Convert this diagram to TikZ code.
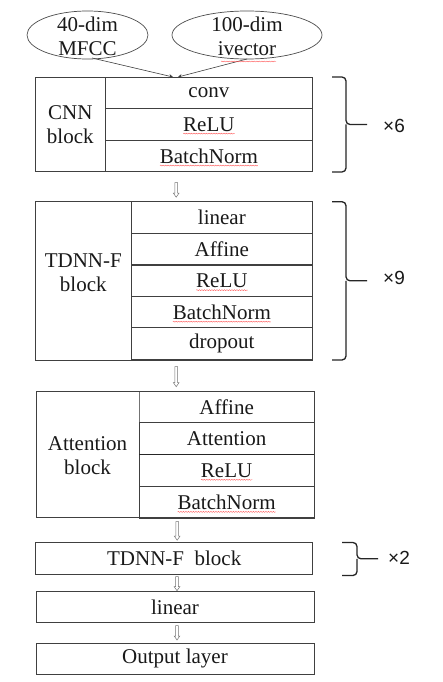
\documentclass[tikz,border=0pt]{standalone}
\usepackage{fontspec}
\setmainfont{Liberation Serif}
\newfontfamily\labsans{Liberation Sans}
\usetikzlibrary{arrows.meta,decorations.pathmorphing,calc}
\newcommand\hollowdown[2]{%
  \draw[harrow] let \p1=(#1), \p2=(#2) in
    (\x1-1.4pt,\y1) -- (\x1+1.4pt,\y1) -- (\x1+1.4pt,\y2+4pt) -- (\x1+2.8pt,\y2+4pt)
    -- (\x1,\y2) -- (\x1-2.8pt,\y2+4pt) -- (\x1-1.4pt,\y2+4pt) -- cycle;}
\begin{document}
\begin{tikzpicture}[x=1pt,y=-1pt,
  every node/.style={font=\fontsize{21}{24}\selectfont, text=black!90},
  box/.style={draw=black!75, line width=0.8pt, inner sep=0pt, outer sep=0pt},
  row/.style={draw=black!75, line width=0.8pt, inner sep=0pt, outer sep=0pt, minimum height=31.6pt},
  txt/.style={inner sep=0pt, outer sep=0pt},
  lab/.style={align=center, inner sep=0pt},
  feed/.style={draw=black!75, line width=0.6pt, -{Stealth[length=4pt,width=4pt]}},
  harrow/.style={draw=black!55, line width=0.5pt, fill=white, line join=miter},
  brace/.style={draw=black!85, line width=1.3pt},
  times/.style={font=\labsans\fontsize{19}{22}\selectfont, anchor=west, inner sep=0pt},
  squig/.style={draw=red!70, line width=0.35pt, decorate, decoration={snake, amplitude=0.5pt, segment length=2.5pt}}
]
\useasboundingbox (0,0) rectangle (442,682);
\fill[white] (0,0) rectangle (442,682);

% input ellipses
\draw[black!70, line width=0.7pt] (87.5,35) ellipse [x radius=60.5pt, y radius=24pt];
\draw[black!70, line width=0.7pt] (247,35) ellipse [x radius=75pt, y radius=24pt];
\node[lab] (mfcc) at (87.5,36) {40-dim\\MFCC};
\node[lab] (ivec) at (247,36) {100-dim\\ivector};
\coordinate (mfccS) at (92,58);
\coordinate (ivecS) at (247,59);

% CNN block
\node[box, minimum width=277pt, minimum height=94.7pt] (cnn) at (174.2,124.35) {};
\node[row, minimum width=207.7pt] (c1) at (208.85,92.8) {};
\node[row, minimum width=207.7pt] (c2) at (208.85,124.35) {};
\node[row, minimum width=207.7pt] (c3) at (208.85,155.9) {};
\node[txt] (c1t) at (c1) {conv};
\node[txt] (c2t) at (c2) {ReLU};
\node[txt] (c3t) at (c3) {BatchNorm};
\node[lab] (cnnl) at (70.3,125) {CNN\\block};

\coordinate (cnnIn1) at (173,77);
\coordinate (cnnIn2) at (178,77);
\draw[feed] (mfccS) -- (cnnIn1);
\draw[feed] (ivecS) -- (cnnIn2);

% TDNN-F block
\node[box, minimum width=277pt, minimum height=158.3pt] (tdnn) at (174.2,280.85) {};
\node[row, minimum width=181.7pt] (t1) at (221.85,217.2) {};
\node[row, minimum width=181.7pt] (t2) at (221.85,248.85) {};
\node[row, minimum width=181.7pt] (t3) at (221.85,280.85) {};
\node[row, minimum width=181.7pt] (t4) at (221.85,312.0) {};
\node[row, minimum width=181.7pt] (t5) at (221.85,343.65) {};
\node[txt] (t1t) at (t1) {linear};
\node[txt] (t2t) at (t2) {Affine};
\node[txt] (t3t) at (t3) {ReLU};
\node[txt] (t4t) at (t4) {BatchNorm};
\node[txt] (t5t) at (t5) {dropout};
\node[lab] (tdnnl) at (83.3,273) {TDNN-F\\block};

% Attention block
\node[box, minimum width=278.3pt, minimum height=126pt] (att) at (175.15,454.7) {};
\node[row, minimum width=175.3pt, draw=black!55] (a1) at (226.65,407.0) {};
\node[row, minimum width=175.3pt] (a2) at (226.65,438.3) {};
\node[row, minimum width=175.3pt] (a3) at (226.65,470.5) {};
\node[row, minimum width=175.3pt] (a4) at (226.65,502.2) {};
\draw[black!85, line width=1.2pt] (a2.south west) -- (a2.south east);
\draw[black!75, line width=0.8pt] (att.north west) rectangle (att.south east);
\node[txt] (a1t) at (a1) {Affine};
\node[txt] (a2t) at (a2) {Attention};
\node[txt] (a3t) at (a3) {ReLU};
\node[txt] (a4t) at (a4) {BatchNorm};
\node[lab] (attl) at (87.5,456) {Attention\\block};

% single blocks
\node[box, minimum width=277pt, minimum height=31.6pt] (tdnn2) at (174.2,558.5) {TDNN-F\ \ block};
\node[box, minimum width=278pt, minimum height=31pt] (lin) at (175,607.2) {linear};
\node[box, minimum width=278pt, minimum height=30.7pt] (out) at (175,658.65) {Output layer};

% down arrows (hollow)
\coordinate (d1a) at ($(cnn.south)+(2,11)$);   \coordinate (d1b) at ($(tdnn.north)+(2,-4.5)$);
\coordinate (d2a) at ($(tdnn.south)+(2,6.5)$);  \coordinate (d2b) at ($(att.north)+(2,-5)$);
\coordinate (d3a) at ($(att.south)+(2,4)$);    \coordinate (d3b) at ($(tdnn2.north)+(2.8,-2.5)$);
\coordinate (d4a) at ($(tdnn2.south)+(2.8,2.4)$); \coordinate (d4b) at ($(lin.north)+(2,-1)$);
\coordinate (d5a) at ($(lin.south)+(2,3)$);    \coordinate (d5b) at ($(out.north)+(2,-3.3)$);
\hollowdown{d1a}{d1b}
\hollowdown{d2a}{d2b}
\hollowdown{d3a}{d3b}
\hollowdown{d4a}{d4b}
\hollowdown{d5a}{d5b}

% spell-check squiggles
\foreach \w in {c2t,c3t,t3t,t4t,a3t,a4t}{
  \draw[squig] ([yshift=-2.5pt]\w.base west) -- ([yshift=-2.5pt]\w.base east);
}
\coordinate (ivA) at (221,61.5);
\coordinate (ivB) at (276,61.5);
\draw[squig] (ivA) -- (ivB);

% braces
\draw[brace, rounded corners=4pt] (332,77) -- (346,77) -- (346,124.5) -- (367,124.5);
\draw[brace, rounded corners=4pt] (332,172) -- (346,172) -- (346,124.5);
\node[times] (x6) at (383,126) {×6};

\draw[brace, rounded corners=4pt] (332,201.7) -- (346,201.7) -- (346,280.8) -- (367,280.8);
\draw[brace, rounded corners=4pt] (332,360) -- (346,360) -- (346,280.8);
\node[times] (x9) at (383,278) {×9};

\draw[brace, rounded corners=4pt] (342,542.5) -- (357,542.5) -- (357,558.8) -- (378,558.8);
\draw[brace, rounded corners=4pt] (342,575.5) -- (357,575.5) -- (357,558.8);
\node[times] (x2) at (388,558) {×2};
\end{tikzpicture}
\end{document}
